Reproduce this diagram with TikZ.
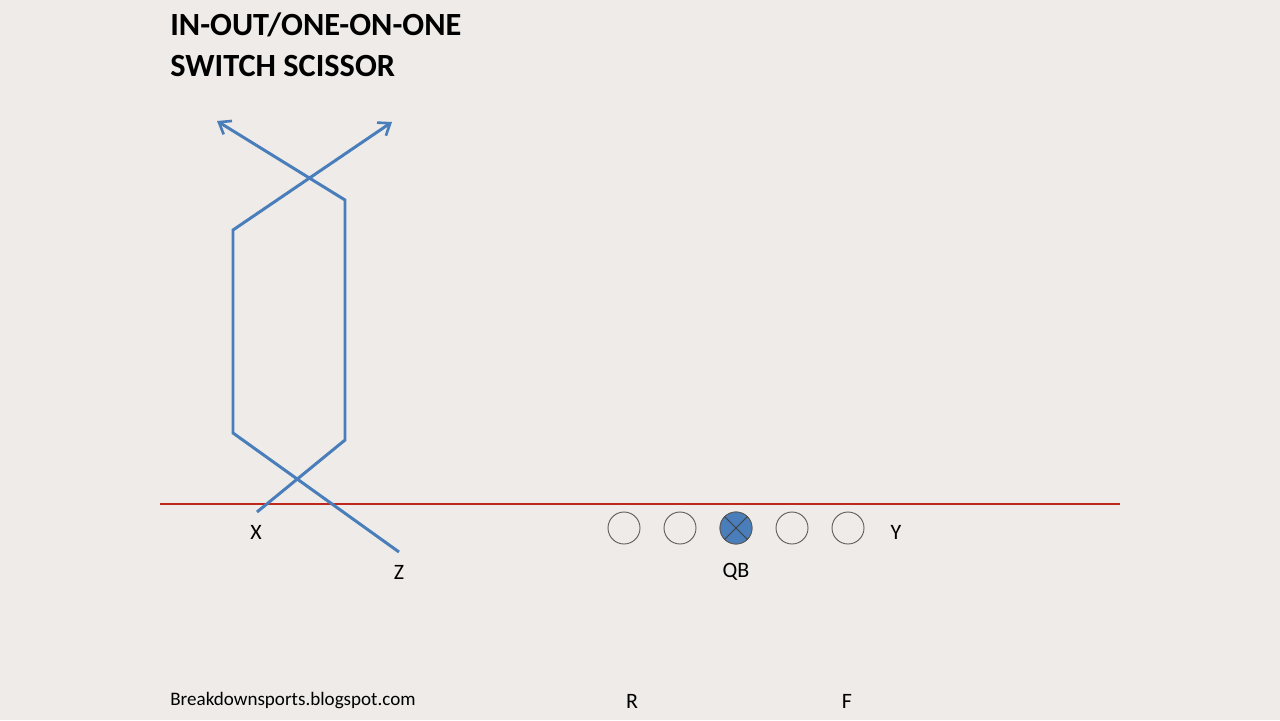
\documentclass[tikz,border=0pt]{standalone}
\usepackage{fontspec}
\setmainfont{Carlito}
\usetikzlibrary{arrows.meta, positioning}

\definecolor{paper}{RGB}{238,235,232}
\definecolor{route}{RGB}{74,126,187}
\definecolor{scrim}{RGB}{192,40,30}

\begin{document}
\begin{tikzpicture}[x=0.02cm,y=-0.02cm,
 route/.style={draw=route,line width=1.7pt,-{Straight Barb[length=6pt,width=9pt,line width=1.5pt]}},
 lineman/.style={circle,draw=black!65,line width=0.5pt,minimum size=0.64cm,inner sep=0pt},
 player/.style={font=\fontsize{12.5}{14}\selectfont},
 heading/.style={anchor=west,inner sep=0pt,font=\fontsize{18.4}{20}\selectfont\bfseries}]

  \fill[paper] (0,0) rectangle (1280,720);
  \useasboundingbox (0,0) rectangle (1280,720);

  % title
  \node[heading] (t1) at (170,25) {IN-OUT/ONE-ON-ONE};
  \node[heading] (t2) at (170,66) {SWITCH SCISSOR};

  % line of scrimmage
  \coordinate (los l) at (160,504);
  \coordinate (los r) at (1120,504);
  \draw[scrim,line width=0.6pt] (los l) -- (los r);

  % line
  \foreach \n/\x in {lt/624, lg/680, c/736, rg/792, rt/848} {
   \node[lineman] (\n) at (\x,528) {};}
  \node[lineman,fill=route] (c) at (736,528) {};
  \draw[black!75,line width=0.5pt] (c.north west) -- (c.south east)
   (c.north east) -- (c.south west);

  % players
  \node[player] (x) at (256,532) {X};
  \node[player] (z) at (399,572) {Z};
  \node[player] (qb) at (736,572) {QB};
  \node[player] (y) at (896,532) {Y};
  \node[player] (r) at (632,701) {R};
  \node[player] (f) at (847,701) {F};
  \node[anchor=west,inner sep=0pt,font=\fontsize{10.85}{12}\selectfont] (web) at (170,701) {Breakdownsports.blogspot.com};

  % routes
  \coordinate (x0) at (257,512);
  \coordinate (x1) at (345,440);
  \coordinate (x2) at (345,200);
  \coordinate (x3) at (217,121);
  \coordinate (z0) at (399,552);
  \coordinate (z1) at (233,433);
  \coordinate (z2) at (233,230);
  \coordinate (z3) at (392,122);
  \draw[route] (x0) -- (x1) -- (x2) -- (x3);
  \draw[route] (z0) -- (z1) -- (z2) -- (z3);

\end{tikzpicture}
\end{document}
